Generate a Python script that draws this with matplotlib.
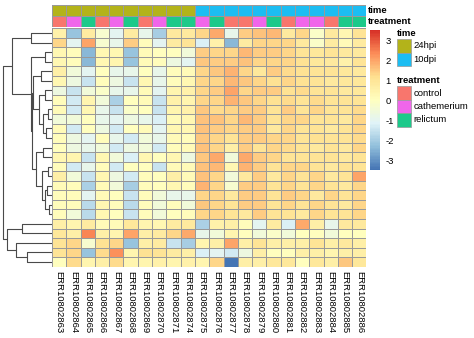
import numpy as np
import matplotlib
matplotlib.use("Agg")
import matplotlib.pyplot as plt
from matplotlib.colors import LinearSegmentedColormap, ListedColormap
from matplotlib.patches import Rectangle

plt.rcParams['font.family'] = ['Liberation Sans', 'DejaVu Sans']
plt.rcParams['axes.unicode_minus'] = False
FS = 6.8

samples = ['ERR10802863', 'ERR10802864', 'ERR10802865', 'ERR10802866', 'ERR10802867',
           'ERR10802868', 'ERR10802869', 'ERR10802870', 'ERR10802871', 'ERR10802874',
           'ERR10802875', 'ERR10802876', 'ERR10802877', 'ERR10802878', 'ERR10802879',
           'ERR10802880', 'ERR10802881', 'ERR10802882', 'ERR10802883', 'ERR10802884',
           'ERR10802885', 'ERR10802886']
time = ['24hpi'] * 10 + ['10dpi'] * 12
treatment = ['control', 'cathemerium', 'relictum', 'control', 'cathemerium', 'relictum',
             'control', 'cathemerium', 'relictum', 'relictum', 'cathemerium', 'relictum',
             'control', 'control', 'cathemerium', 'relictum', 'control', 'cathemerium',
             'cathemerium', 'control', 'relictum', 'relictum']

time_colors = {'24hpi': '#B3B31A', '10dpi': '#1CBDF2'}
treatment_colors = {'control': '#F8766D', 'cathemerium': '#F066EA', 'relictum': '#1CC98A'}

# rows already in dendrogram order (top -> bottom)
values = np.array([
    [0.5, -2.2, 0.7, -0.35, -1.0, 0.7, -0.9, -2.0, 0.8, 0.8, 1.3, 1.9, -0.9, 1.4, 1.6, 1.7, 0.8, 1.3, -0.2, 0.8, 0.3, 1.0],
    [1.3, -1.0, 2.0, -0.35, -0.9, 1.4, 0.1, -1.0, 0.7, 1.0, -1.2, 0.5, -2.4, 0.7, 1.3, 1.3, 1.3, 0.8, -0.2, 0.7, 0.2, 0.7],
    [0.3, 0.1, -2.4, 0.3, 0.3, -2.2, 0.2, 0.0, 0.0, -0.5, 1.4, 1.3, 1.3, 1.7, 1.4, 1.4, 1.3, 1.0, 0.9, 1.0, 0.8, 0.8],
    [0.3, 0.1, -2.4, 0.3, 0.4, -2.2, 0.2, 0.1, -0.7, -1.0, 1.5, 1.4, 1.4, 1.6, 1.3, 1.3, 1.3, 1.1, 0.9, 0.8, 0.5, 1.0],
    [0.6, -0.5, -1.0, 0.0, -0.9, -0.9, 0.0, -0.9, 0.1, 0.2, 1.3, 1.5, 1.8, 1.3, 0.9, 1.4, 1.2, 1.1, 1.0, 1.0, 0.9, 0.8],
    [0.3, -0.7, -1.5, 0.1, -0.7, -1.5, 0.3, -0.9, 0.1, 0.3, 1.3, 1.3, 1.7, 1.5, 1.3, 1.1, 1.3, 1.1, 1.0, 0.8, 0.9, 0.9],
    [-0.7, -1.5, -0.5, -0.2, -0.9, -0.9, 0.2, -1.0, 0.4, 0.5, 1.3, 1.4, 2.0, 1.3, 1.4, 1.4, 1.1, 1.2, 1.0, 1.0, 0.8, 0.9],
    [0.1, -1.4, 0.4, -0.5, -1.9, 0.0, 0.2, -1.5, 0.5, 0.4, 1.3, 1.3, 1.8, 1.5, 1.3, 1.1, 1.2, 1.0, 1.2, 1.0, 1.0, 1.0],
    [0.2, -1.4, 0.3, -0.9, -1.5, -0.2, 0.0, -1.5, 0.4, 0.5, 1.5, 1.2, 1.3, 1.4, 1.4, 1.0, 1.4, 1.0, 1.3, 1.0, 1.0, 1.2],
    [-0.5, -0.5, 0.0, -0.9, -1.0, -0.7, -0.9, -1.2, 0.2, 0.3, 1.6, 1.6, 1.3, 1.7, 1.4, 1.0, 1.3, 1.3, 1.0, 1.0, 0.8, 1.3],
    [0.2, -1.4, 0.0, -0.7, -1.4, 0.0, 0.2, -1.0, 0.3, 0.3, 1.6, 1.4, 1.3, 1.4, 1.4, 0.8, 1.3, 1.0, 1.0, 0.8, 1.0, 1.3],
    [0.1, -0.7, -1.0, 0.1, -0.9, -1.4, -0.5, -0.9, 0.2, 0.1, 1.5, 1.3, 1.0, 1.4, 1.4, 1.3, 1.3, 1.0, 1.1, 1.0, 1.0, 1.2],
    [0.0, -0.7, -0.9, -0.5, -1.4, -0.7, -0.5, -1.4, 0.1, 0.2, 1.6, 1.3, 0.6, 1.4, 1.0, 1.3, 1.2, 1.0, 0.8, 1.0, 0.8, 1.3],
    [0.3, 0.4, -1.5, 0.3, -0.5, -1.2, 0.3, 0.0, 0.3, -0.7, 1.5, 1.9, -0.5, 1.9, 1.4, 1.3, 1.0, 1.0, 1.0, 1.0, 0.8, 1.0],
    [0.1, -1.4, -0.9, 0.1, -1.4, 0.0, 0.0, -1.5, 0.2, 0.2, 1.6, 1.7, 0.3, 1.8, 1.4, 1.0, 1.3, 1.3, 1.0, 0.8, 1.0, 1.0],
    [0.6, -0.5, -1.5, 0.3, -0.7, -1.4, 0.1, 0.0, 0.6, 0.2, 1.6, 1.3, -0.5, 0.8, 1.4, 0.8, 1.3, 1.0, 1.3, 0.8, 1.0, 2.0],
    [0.2, 0.1, -1.9, 0.2, -0.5, -2.0, 0.1, 0.0, 0.3, 0.1, 1.8, 1.3, -0.35, 1.4, 1.4, 1.0, 1.3, 1.0, 1.3, 1.0, 0.8, 1.3],
    [0.1, 0.1, -1.0, 0.2, 0.0, -1.5, 0.1, -0.5, -0.9, -0.9, 1.3, 1.3, 0.8, 1.4, 1.4, 1.0, 1.4, 1.3, 0.8, 1.3, 1.0, 1.3],
    [0.1, 0.1, -1.7, 0.3, 0.1, -1.7, 0.1, -0.5, 0.1, -0.5, 1.5, 1.3, 1.0, 1.4, 1.4, 1.0, 1.3, 1.0, 1.3, 1.0, 0.8, 1.3],
    [0.1, -0.5, -1.7, 0.3, 0.0, -1.5, 0.1, -0.5, 0.0, 0.1, 1.3, 1.3, 1.0, 0.8, 1.4, 1.0, 1.0, 0.8, 1.3, 1.0, 1.0, 1.3],
    [0.6, 0.4, 0.7, 0.2, 0.2, 0.9, 0.4, 0.3, 0.7, 0.8, -1.9, 0.5, 0.6, 0.1, -1.0, 0.7, -1.2, 1.9, 0.6, -0.9, 0.8, 0.8],
    [0.9, 0.6, 2.4, 0.6, 0.4, 2.0, 0.6, 0.7, 1.3, 1.9, -0.9, -0.5, 0.4, 0.0, -0.5, -0.2, -0.5, 0.0, 0.0, -0.5, 0.0, 0.0],
    [1.0, 1.3, -0.35, 1.1, 1.3, -2.2, 0.6, 0.7, -1.5, -2.0, 0.4, 0.6, 2.0, 0.6, 1.0, 0.6, 0.6, 0.6, 1.0, 0.6, 0.8, 0.6],
    [1.0, 1.3, -2.2, 1.2, 2.3, 0.4, 1.1, 1.0, 0.7, 0.6, -1.2, -1.0, -1.4, -0.7, 0.6, 0.0, 0.0, 0.6, 0.6, 0.4, 0.6, 0.6],
    [0.0, 1.2, 0.4, 0.6, 1.2, 0.4, 0.4, 0.5, 0.4, 0.5, 0.4, 1.3, -3.5, 0.6, 0.6, 0.9, 0.9, 0.0, 0.9, 0.6, 1.5, 0.9],
])

# row dendrogram merges: (left, right, height); leaves 0..24, new nodes from 25
merges = [
    (0, 1, 21.3), (2, 3, 7.0), (4, 5, 11.3), (6, 7, 7.0), (8, 9, 4.0), (10, 11, 6.0),
    (29, 30, 9.0), (28, 31, 13.0), (27, 32, 18.7), (12, 13, 9.0), (14, 15, 4.0),
    (16, 17, 5.0), (18, 19, 3.0), (36, 37, 7.0), (35, 38, 10.0), (34, 39, 16.0),
    (33, 40, 19.7), (26, 41, 21.0), (25, 42, 40.3), (20, 21, 30.3), (23, 24, 25.3),
    (22, 45, 36.0), (44, 46, 44.7), (43, 47, 49.3),
]

W, H = 474, 338


def box(x0, y0, x1, y1):
    return [x0 / W, 1 - y1 / H, (x1 - x0) / W, (y1 - y0) / H]


fig = plt.figure(figsize=(W / 100, H / 100), dpi=100)
cmap = LinearSegmentedColormap.from_list(
    'rdylbu', ['#4575B4', '#91BFDB', '#E0F3F8', '#FFFFBF', '#FEE090', '#FC8D59', '#D73027'], N=100)
nrow, ncol = values.shape
grid = '#999999'

# heatmap
ax = fig.add_axes(box(52, 28.3, 366.5, 266.7))
mesh = ax.pcolormesh(np.arange(ncol + 1), np.arange(nrow + 1), values, cmap=cmap,
                     vmin=-3.5, vmax=3.5, edgecolors=grid, linewidth=0.5)
ax.set_xlim(0, ncol)
ax.set_ylim(nrow, 0)
ax.set_frame_on(False)
ax.set_yticks([])
ax.set_xticks(np.arange(ncol) + 0.5)
ax.set_xticklabels(samples, rotation=270, fontsize=FS, va='top', ha='center')
ax.tick_params(axis='x', length=0, pad=3)

# column annotations
ann = fig.add_axes(box(52, 5, 366.5, 27))
levels = list(time_colors) + list(treatment_colors)
lev_colors = list(time_colors.values()) + list(treatment_colors.values())
codes = np.array([[levels.index(t) for t in time], [levels.index(t) for t in treatment]])
ann.pcolormesh(np.arange(ncol + 1), np.arange(3), codes, cmap=ListedColormap(lev_colors),
               vmin=-0.5, vmax=len(levels) - 0.5, edgecolors=grid, linewidth=0.5)
ann.set_xlim(0, ncol)
ann.set_ylim(2, 0)
ann.axis('off')
for i, name in enumerate(['time', 'treatment']):
    ann.text(ncol + 0.1, i + 0.5, name, fontsize=FS, fontweight='bold', va='center', ha='left')

# row dendrogram
dax = fig.add_axes(box(0, 28.3, 52, 266.7))
pos = {i: i + 0.5 for i in range(nrow)}
hgt = {i: 0.0 for i in range(nrow)}
for k, (a, b, h) in enumerate(merges):
    dax.plot([hgt[a], h, h, hgt[b]], [pos[a], pos[a], pos[b], pos[b]],
             color='#4a4a4a', lw=0.8, solid_capstyle='butt')
    pos[nrow + k] = (pos[a] + pos[b]) / 2
    hgt[nrow + k] = h
dax.set_xlim(52, 0)
dax.set_ylim(nrow, 0)
dax.axis('off')

# colour scale
cax = fig.add_axes(box(370, 30, 380, 170))
cb = fig.colorbar(mesh, cax=cax, ticks=np.arange(-3, 4))
cb.outline.set_visible(False)
cax.tick_params(length=0, pad=4, labelsize=FS)

# legends
lax = fig.add_axes(box(395, 25, 474, 135))
lax.set_xlim(0, 79)
lax.set_ylim(110, 0)
lax.axis('off')
y = 8
for title, cdict in [('time', time_colors), ('treatment', treatment_colors)]:
    lax.text(1.5, y, title, fontsize=FS, fontweight='bold', va='center', ha='left')
    y += 6.3
    for lab, col in cdict.items():
        lax.add_patch(Rectangle((1.7, y), 14.3, 13.4, facecolor=col, edgecolor=grid, lw=0.5))
        lax.text(18.5, y + 6.7, lab, fontsize=FS, va='center', ha='left')
        y += 13.4
    y += 14

fig.savefig('out.png', dpi=100)
